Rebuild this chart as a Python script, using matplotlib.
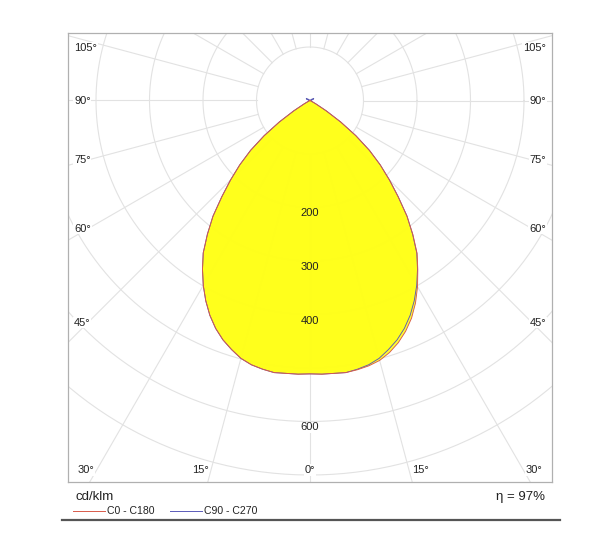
import numpy as np
import matplotlib.pyplot as plt
from matplotlib.lines import Line2D

# luminous intensity, cd/klm, per gamma angle (deg)
gamma = [0, 2.5, 5, 7.5, 10, 12.5, 15, 17.5, 20, 22.5, 25, 27.5, 30, 32.5, 35, 37.5, 40, 42.5,
         45, 47.5, 50, 52.5, 55, 57.5, 60, 62.5, 65, 67.5, 70, 72.5, 75, 77.5, 80, 82.5, 85, 87.5, 90,
         100, 110, 120, 130, 140, 150, 160, 170, 180]
i_c0 = [511, 512, 512, 513, 511, 508, 503, 494, 482, 467, 449, 427, 402, 375, 349, 316, 282, 244,
        210, 178, 145, 108, 70, 36, 13, 4, 1, 0, 0, 0, 0, 0, 0, 0, 0, 0, 0,
        0, 0, 0, 0, 0, 0, 0, 0, 0]
i_c180 = [511, 512, 512, 513, 510, 506, 499, 488, 476, 461, 443, 422, 399, 374, 348, 315, 282, 244,
          210, 178, 145, 108, 70, 36, 13, 4, 1, 0, 0, 0, 0, 0, 0, 0, 0, 0, 0,
          0, 0, 0, 0, 0, 0, 0, 0, 0]
i_c90 = [511, 512, 512, 513, 510, 506, 499, 488, 476, 461, 443, 422, 399, 374, 348, 315, 282, 244,
         210, 178, 145, 108, 70, 36, 13, 4, 1, 0, 0, 0, 0, 0, 0, 0, 0, 0, 0,
         2, 7, 8, 3, 0, 0, 0, 0, 0]
i_c270 = [511, 512, 512, 513, 510, 506, 499, 488, 476, 461, 443, 422, 399, 374, 348, 315, 282, 244,
          210, 178, 145, 108, 70, 36, 13, 4, 1, 0, 0, 0, 0, 0, 0, 0, 0, 0, 0,
          2, 7, 8, 3, 0, 0, 0, 0, 0]

rings = [100, 200, 300, 400, 500, 600, 700]
ring_labels = [200, 300, 400, 600]
side_angles = [45, 60, 75, 90, 105]
bottom_angles = [30, 15, 0]
unit = 'cd/klm'
eta = '\u03b7 = 97%'
plane_names = ['C0 - C180', 'C90 - C270']
plane_colors = ['#d85a4a', '#5a5ab8']

W, H = 611, 541
px = 0.535                 # pixels per cd/klm
u = 1 / px                 # one pixel in data units
cx, cy = 310, 100.5        # pole position (pixels)
box = (68, 33, 552, 482)   # left, top, right, bottom (pixels)

xmin = (box[0] - cx) * u
xmax = (box[2] - cx) * u
ymax = (cy - box[1]) * u
ymin = (cy - box[3]) * u

fig = plt.figure(figsize=(W / 100, H / 100), dpi=100)
ax = fig.add_axes([box[0] / W, 1 - box[3] / H, (box[2] - box[0]) / W, (box[3] - box[1]) / H])
ax.set_xlim(xmin, xmax)
ax.set_ylim(ymin, ymax)
ax.set_xticks([])
ax.set_yticks([])
for s in ax.spines.values():
    s.set_color('#b0b0b0')
    s.set_linewidth(0.9)

grid_col = '#e2e2e2'
t = np.linspace(0, 2 * np.pi, 400)
for r in rings:
    ax.plot(r * np.cos(t), r * np.sin(t), color=grid_col, lw=0.8, zorder=1)
for a in range(0, 360, 15):
    ar = np.radians(a)
    ax.plot([100 * np.sin(ar), 1200 * np.sin(ar)], [-100 * np.cos(ar), -1200 * np.cos(ar)],
            color=grid_col, lw=0.8, zorder=1)

g = np.radians(gamma)
curves = [(i_c0, i_c180), (i_c90, i_c270)]
outlines = []
for right, left in curves:
    right = np.array(right, float)
    left = np.array(left, float)
    x = np.concatenate([(right * np.sin(g))[::-1], -left * np.sin(g)])
    y = np.concatenate([(-right * np.cos(g))[::-1], -left * np.cos(g)])
    outlines.append((x, y))
    ax.fill(x, y, color='#ffff1a', alpha=0.9, lw=0, zorder=2)
# blue below, red on top
for (x, y), col, z in zip(outlines, plane_colors, [3.2, 3.1]):
    ax.plot(x, y, color=col, lw=0.65, zorder=z)

font = 'Liberation Sans'
fs = 8
bb = dict(facecolor='white', edgecolor='none', pad=0.6)

# ring values along the nadir
imax = max(max(i_c0), max(i_c90))
for r in ring_labels:
    kw = {}
    if r > imax:
        kw['bbox'] = bb
    ax.text(0, -r - 1 * u, str(r), ha='center', va='top', fontsize=fs, family=font,
            color='#222222', zorder=4, **kw)

# angle labels on the sides
xl = -xmin - 20 * u
for a in side_angles:
    ar = np.radians(a)
    yy = -xl / np.tan(ar) if a != 90 else 0
    yy = min(yy, ymax - 15 * u)
    ax.text(xmin + 6 * u, yy, '%d°' % a, ha='left', va='center', fontsize=fs,
            family=font, color='#222222', zorder=4, bbox=bb)
    ax.text(xmax - 6 * u, yy, '%d°' % a, ha='right', va='center', fontsize=fs,
            family=font, color='#222222', zorder=4, bbox=bb)

# angle labels along the bottom
yb = ymin + 12 * u
for a in bottom_angles:
    xx = -yb * np.tan(np.radians(a))
    off = 11 * u if a > 0 else 0
    ax.text(-xx - off, yb, '%d°' % a, ha='center', va='center', fontsize=fs,
            family=font, color='#222222', zorder=4, bbox=bb)
    if a > 0:
        ax.text(xx + off, yb, '%d°' % a, ha='center', va='center', fontsize=fs,
                family=font, color='#222222', zorder=4, bbox=bb)

# footer
fig.text(75 / W, 1 - 497 / H, unit, ha='left', va='center', fontsize=9.5, family=font, color='#222222')
fig.text(545 / W, 1 - 497 / H, eta, ha='right', va='center', fontsize=9.5, family=font, color='#222222')
for k, (name, col) in enumerate(zip(plane_names, plane_colors)):
    x0 = 73 + k * 97
    fig.add_artist(Line2D([x0 / W, (x0 + 32) / W], [1 - 511 / H, 1 - 511 / H], color=col, lw=0.7))
    fig.text((x0 + 34) / W, 1 - 511 / H, name, ha='left', va='center', fontsize=7.6,
             family=font, color='#222222')
fig.add_artist(Line2D([62 / W, 560 / W], [1 - 520 / H, 1 - 520 / H], color='#555555', lw=1.6))

fig.savefig('out.png', dpi=100)
